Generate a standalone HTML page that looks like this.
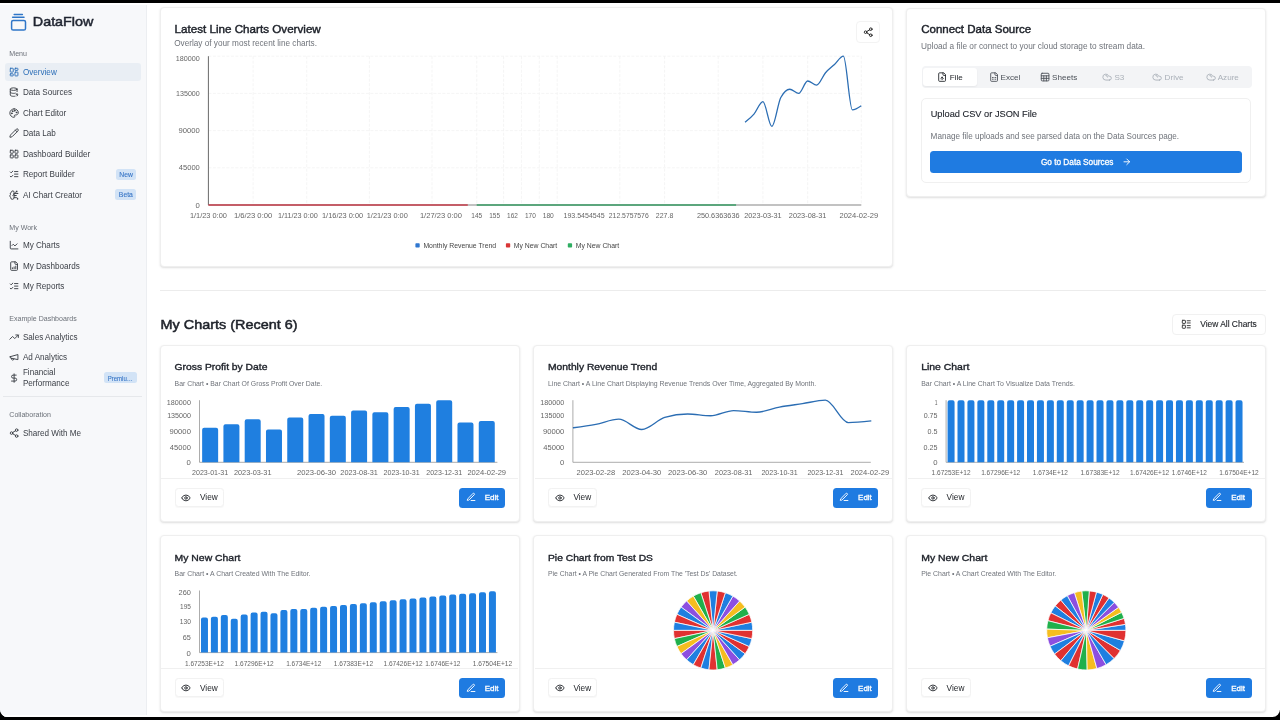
<!DOCTYPE html>
<html><head><meta charset="utf-8"><title>DataFlow</title>
<style>
html,body{margin:0;padding:0;background:#000;width:1280px;height:720px;overflow:hidden}
#page{position:absolute;left:0;top:0;width:1280px;height:716.9px;background:#fff;border-radius:0 0 7.5px 7.5px;overflow:hidden;font-family:"Liberation Sans", Arial, sans-serif}
.t{position:absolute;white-space:nowrap;line-height:1}
.b{position:absolute}
.i{position:absolute;overflow:visible}
#ov{position:absolute;left:0;top:0}
#top{position:absolute;left:0;top:0;width:1280px;height:2.7px;background:#000}
</style></head><body>
<div id="page">
<div class="b" style="left:0.00px;top:0.00px;width:146.70px;height:717.00px;background:#f7f8fa;border-right:1px solid #eceef1;box-sizing:border-box"></div>
<div class="b" style="left:0.00px;top:3.00px;width:146.70px;height:1.50px;background:#ffffff"></div>
<div class="b" style="left:0.00px;top:715.40px;width:146.70px;height:1.60px;background:#ffffff"></div>
<svg class="i" style="left:10px;top:13px" width="17" height="18" viewBox="0 0 17 18" fill="none" stroke="#2f76c8" stroke-width="1.5" stroke-linecap="round"><line x1="4.2" y1="1.4" x2="12.4" y2="1.4"/><line x1="2.6" y1="4.3" x2="14" y2="4.3"/><rect x="1.6" y="7.4" width="13.9" height="9.6" rx="1.6"/></svg>
<div class="b" style="left:5.30px;top:63.20px;width:135.90px;height:17.60px;background:#e9eef4;border-radius:3px"></div>
<svg class="i" style="left:8.70px;top:66.90px" width="10.2" height="10.2" viewBox="0 0 24 24" fill="none" stroke="#2d6fb8" stroke-width="2.2" stroke-linecap="round" stroke-linejoin="round"><rect width="7" height="9" x="3" y="3" rx="1"/><rect width="7" height="5" x="14" y="3" rx="1"/><rect width="7" height="9" x="14" y="12" rx="1"/><rect width="7" height="5" x="3" y="16" rx="1"/></svg>
<svg class="i" style="left:8.70px;top:87.40px" width="10.2" height="10.2" viewBox="0 0 24 24" fill="none" stroke="#3b3f46" stroke-width="2.2" stroke-linecap="round" stroke-linejoin="round"><ellipse cx="11" cy="5" rx="8" ry="3"/><path d="M3 5v14c0 1.66 3.6 3 8 3 1.2 0 2.3-.1 3.3-.3"/><path d="M3 12c0 1.66 3.6 3 8 3 1.5 0 2.9-.15 4-.45"/><path d="M19 5v6"/><path d="m19 15-2 3h4l-2 3"/></svg>
<svg class="i" style="left:8.70px;top:107.90px" width="10.2" height="10.2" viewBox="0 0 24 24" fill="none" stroke="#3b3f46" stroke-width="2.2" stroke-linecap="round" stroke-linejoin="round"><circle cx="13.5" cy="6.5" r="1" fill="currentColor"/><circle cx="17.5" cy="10.5" r="1" fill="currentColor"/><circle cx="8.5" cy="7.5" r="1" fill="currentColor"/><circle cx="6.5" cy="12.5" r="1" fill="currentColor"/><path d="M12 2C6.5 2 2 6.5 2 12s4.5 10 10 10c.926 0 1.648-.746 1.648-1.688 0-.437-.18-.835-.437-1.125-.29-.289-.438-.652-.438-1.125a1.64 1.64 0 0 1 1.668-1.668h1.996c3.051 0 5.555-2.503 5.555-5.554C21.965 6.012 17.461 2 12 2z"/></svg>
<svg class="i" style="left:8.70px;top:128.40px" width="10.2" height="10.2" viewBox="0 0 24 24" fill="none" stroke="#3b3f46" stroke-width="2.2" stroke-linecap="round" stroke-linejoin="round"><path d="M21.174 6.812a1 1 0 0 0-3.986-3.987L3.842 16.174a2 2 0 0 0-.5.83l-1.321 4.352a.5.5 0 0 0 .623.622l4.353-1.32a2 2 0 0 0 .83-.497z"/><path d="m15 5 4 4"/></svg>
<svg class="i" style="left:8.70px;top:148.90px" width="10.2" height="10.2" viewBox="0 0 24 24" fill="none" stroke="#3b3f46" stroke-width="2.2" stroke-linecap="round" stroke-linejoin="round"><rect width="7" height="7" x="3" y="3" rx="1"/><rect width="7" height="7" x="14" y="3" rx="1"/><rect width="7" height="7" x="14" y="14" rx="1"/><rect width="7" height="7" x="3" y="14" rx="1"/></svg>
<svg class="i" style="left:8.70px;top:169.30px" width="10.2" height="10.2" viewBox="0 0 24 24" fill="none" stroke="#3b3f46" stroke-width="2.2" stroke-linecap="round" stroke-linejoin="round"><path d="m3 17 2 2 4-4"/><path d="m3 7 2 2 4-4"/><path d="M13 6h8"/><path d="M13 12h8"/><path d="M13 18h8"/></svg>
<div class="b" style="left:115.80px;top:169.00px;width:20.70px;height:11.00px;background:#d2e3f6;border-radius:2.5px"></div>
<svg class="i" style="left:8.70px;top:189.70px" width="10.2" height="10.2" viewBox="0 0 24 24" fill="none" stroke="#3b3f46" stroke-width="2.2" stroke-linecap="round" stroke-linejoin="round"><path d="M12 5a3 3 0 1 0-5.997.125 4 4 0 0 0-2.526 5.77 4 4 0 0 0 .556 6.588A4 4 0 1 0 12 18Z"/><path d="M9 13a4.5 4.5 0 0 0 3-4"/><path d="M12 13h4"/><path d="M12 18h6a2 2 0 0 1 2 2v1"/><path d="M12 8h8"/><path d="M16 8V5a2 2 0 0 1 2-2"/><circle cx="16" cy="13" r=".5"/><circle cx="18" cy="3" r=".5"/><circle cx="20" cy="21" r=".5"/><circle cx="20" cy="8" r=".5"/></svg>
<div class="b" style="left:115.20px;top:189.40px;width:21.30px;height:11.00px;background:#d2e3f6;border-radius:2.5px"></div>
<svg class="i" style="left:8.70px;top:240.40px" width="10.2" height="10.2" viewBox="0 0 24 24" fill="none" stroke="#3b3f46" stroke-width="2.2" stroke-linecap="round" stroke-linejoin="round"><path d="M3 3v16a2 2 0 0 0 2 2h16"/><path d="m19 9-5 5-4-4-3 3"/></svg>
<svg class="i" style="left:8.70px;top:260.90px" width="10.2" height="10.2" viewBox="0 0 24 24" fill="none" stroke="#3b3f46" stroke-width="2.2" stroke-linecap="round" stroke-linejoin="round"><path d="M15 2H6a2 2 0 0 0-2 2v16a2 2 0 0 0 2 2h12a2 2 0 0 0 2-2V7Z"/><path d="M14 2v4a2 2 0 0 0 2 2h4"/><path d="M8 18v-2"/><path d="M12 18v-4"/><path d="M16 18v-6"/></svg>
<svg class="i" style="left:8.70px;top:281.40px" width="10.2" height="10.2" viewBox="0 0 24 24" fill="none" stroke="#3b3f46" stroke-width="2.2" stroke-linecap="round" stroke-linejoin="round"><path d="m3 17 2 2 4-4"/><path d="m3 7 2 2 4-4"/><path d="M13 6h8"/><path d="M13 12h8"/><path d="M13 18h8"/></svg>
<svg class="i" style="left:8.70px;top:331.60px" width="10.2" height="10.2" viewBox="0 0 24 24" fill="none" stroke="#3b3f46" stroke-width="2.2" stroke-linecap="round" stroke-linejoin="round"><polyline points="22 7 13.5 15.5 8.5 10.5 2 17"/><polyline points="16 7 22 7 22 13"/></svg>
<svg class="i" style="left:8.70px;top:352.00px" width="10.2" height="10.2" viewBox="0 0 24 24" fill="none" stroke="#3b3f46" stroke-width="2.2" stroke-linecap="round" stroke-linejoin="round"><path d="m3 11 18-5v12L3 14v-3z"/><path d="M11.6 16.8a3 3 0 1 1-5.8-1.6"/></svg>
<svg class="i" style="left:8.70px;top:372.90px" width="10.2" height="10.2" viewBox="0 0 24 24" fill="none" stroke="#3b3f46" stroke-width="2.2" stroke-linecap="round" stroke-linejoin="round"><line x1="12" x2="12" y1="2" y2="22"/><path d="M17 5H9.5a3.5 3.5 0 0 0 0 7h5a3.5 3.5 0 0 1 0 7H6"/></svg>
<div class="b" style="left:104.00px;top:372.10px;width:32.50px;height:11.40px;background:#d2e3f6;border-radius:2.5px"></div>
<div class="b" style="left:3.00px;top:396.00px;width:138.70px;height:1.00px;background:#e6e8eb"></div>
<svg class="i" style="left:8.70px;top:427.80px" width="10.2" height="10.2" viewBox="0 0 24 24" fill="none" stroke="#3b3f46" stroke-width="2.2" stroke-linecap="round" stroke-linejoin="round"><circle cx="18" cy="5" r="3"/><circle cx="6" cy="12" r="3"/><circle cx="18" cy="19" r="3"/><line x1="8.59" x2="15.42" y1="13.51" y2="17.49"/><line x1="15.41" x2="8.59" y1="6.51" y2="10.49"/></svg>
<div class="b" style="left:160.00px;top:7.00px;width:733.00px;height:260.00px;background:#fff;border:1px solid #efefef;border-radius:4px;box-shadow:0 1px 3px rgba(0,0,0,0.08),0 1px 1.5px rgba(0,0,0,0.06);box-sizing:border-box"></div>
<div class="b" style="left:856.10px;top:21.40px;width:23.60px;height:21.90px;border:1px solid #f3f3f3;border-radius:4px;box-sizing:border-box;background:#fff"></div>
<svg class="i" style="left:862.70px;top:27.20px" width="10.4" height="10.4" viewBox="0 0 24 24" fill="none" stroke="#222" stroke-width="2.2" stroke-linecap="round" stroke-linejoin="round"><circle cx="18" cy="5" r="3"/><circle cx="6" cy="12" r="3"/><circle cx="18" cy="19" r="3"/><line x1="8.59" x2="15.42" y1="13.51" y2="17.49"/><line x1="15.41" x2="8.59" y1="6.51" y2="10.49"/></svg>
<div class="b" style="left:906.00px;top:8.00px;width:360.00px;height:189.00px;background:#fff;border:1px solid #efefef;border-radius:4px;box-shadow:0 1px 3px rgba(0,0,0,0.08),0 1px 1.5px rgba(0,0,0,0.06);box-sizing:border-box"></div>
<div class="b" style="left:921.60px;top:66.20px;width:330.30px;height:21.60px;background:#f3f4f6;border-radius:4px"></div>
<div class="b" style="left:923.00px;top:68.20px;width:54.40px;height:17.80px;background:#fff;border-radius:3px;box-shadow:0 1px 2px rgba(0,0,0,0.06)"></div>
<svg class="i" style="left:937.30px;top:72.10px" width="10.2" height="10.2" viewBox="0 0 24 24" fill="none" stroke="#23262b" stroke-width="2.1" stroke-linecap="round" stroke-linejoin="round"><path d="M15 2H6a2 2 0 0 0-2 2v16a2 2 0 0 0 2 2h12a2 2 0 0 0 2-2V7Z"/><path d="M14 2v4a2 2 0 0 0 2 2h4"/><path d="M12 12v6"/><path d="m15 15-3-3-3 3"/></svg>
<svg class="i" style="left:988.50px;top:72.10px" width="10.2" height="10.2" viewBox="0 0 24 24" fill="none" stroke="#4b5058" stroke-width="2.1" stroke-linecap="round" stroke-linejoin="round"><path d="M15 2H6a2 2 0 0 0-2 2v16a2 2 0 0 0 2 2h12a2 2 0 0 0 2-2V7Z"/><path d="M14 2v4a2 2 0 0 0 2 2h4"/><path d="M8 13h2"/><path d="M14 13h2"/><path d="M8 17h2"/><path d="M14 17h2"/></svg>
<svg class="i" style="left:1039.90px;top:72.10px" width="10.2" height="10.2" viewBox="0 0 24 24" fill="none" stroke="#4b5058" stroke-width="2.1" stroke-linecap="round" stroke-linejoin="round"><rect width="18" height="18" x="3" y="3" rx="2"/><line x1="3" x2="21" y1="9" y2="9"/><line x1="3" x2="21" y1="15" y2="15"/><line x1="9" x2="9" y1="9" y2="21"/><line x1="15" x2="15" y1="9" y2="21"/></svg>
<svg class="i" style="left:1102.20px;top:72.10px" width="10.2" height="10.2" viewBox="0 0 24 24" fill="none" stroke="#aab0b8" stroke-width="2.1" stroke-linecap="round" stroke-linejoin="round"><path d="M17.5 19H9a7 7 0 1 1 6.71-9h1.79a4.5 4.5 0 1 1 0 9Z"/><path d="M13 12a4 4 0 0 0-4-4"/></svg>
<svg class="i" style="left:1152.20px;top:72.10px" width="10.2" height="10.2" viewBox="0 0 24 24" fill="none" stroke="#aab0b8" stroke-width="2.1" stroke-linecap="round" stroke-linejoin="round"><path d="M17.5 19H9a7 7 0 1 1 6.71-9h1.79a4.5 4.5 0 1 1 0 9Z"/><path d="M13 12a4 4 0 0 0-4-4"/></svg>
<svg class="i" style="left:1205.70px;top:72.10px" width="10.2" height="10.2" viewBox="0 0 24 24" fill="none" stroke="#aab0b8" stroke-width="2.1" stroke-linecap="round" stroke-linejoin="round"><path d="M17.5 19H9a7 7 0 1 1 6.71-9h1.79a4.5 4.5 0 1 1 0 9Z"/><path d="M13 12a4 4 0 0 0-4-4"/></svg>
<div class="b" style="left:920.80px;top:97.60px;width:330.50px;height:85.20px;border:1px solid #f0f0f0;border-radius:5px;box-sizing:border-box"></div>
<div class="b" style="left:930.30px;top:150.90px;width:312.10px;height:22.00px;background:#1f7be1;border-radius:3.5px"></div>
<svg class="i" style="left:1122.20px;top:157.30px" width="9.6" height="9.6" viewBox="0 0 24 24" fill="none" stroke="#fff" stroke-width="2.3" stroke-linecap="round" stroke-linejoin="round"><path d="M5 12h14"/><path d="m12 5 7 7-7 7"/></svg>
<div class="b" style="left:160.00px;top:289.50px;width:1106.00px;height:1.00px;background:#ececec"></div>
<div class="b" style="left:1171.80px;top:313.70px;width:94.00px;height:21.40px;border:1px solid #f1f1f1;border-radius:4px;box-sizing:border-box;background:#fff"></div>
<svg class="i" style="left:1180.70px;top:319.10px" width="10.6" height="10.6" viewBox="0 0 24 24" fill="none" stroke="#333" stroke-width="2.1" stroke-linecap="round" stroke-linejoin="round"><rect width="7" height="7" x="3" y="3" rx="1"/><rect width="7" height="7" x="3" y="14" rx="1"/><path d="M14 4h7"/><path d="M14 9h7"/><path d="M14 15h7"/><path d="M14 20h7"/></svg>
<div class="b" style="left:160.00px;top:345.00px;width:360.00px;height:177.00px;background:#fff;border:1px solid #efefef;border-radius:4px;box-shadow:0 1px 3px rgba(0,0,0,0.08),0 1px 1.5px rgba(0,0,0,0.06);box-sizing:border-box"></div>
<div class="b" style="left:161.10px;top:477.50px;width:357.40px;height:0.90px;background:#f0f0f0"></div>
<div class="b" style="left:174.80px;top:487.60px;width:49.20px;height:19.50px;border:1px solid #f2f2f2;border-radius:3.5px;box-sizing:border-box;background:#fff;box-shadow:0 0.5px 1px rgba(0,0,0,0.03)"></div>
<svg class="i" style="left:181.15px;top:492.55px" width="9.9" height="9.9" viewBox="0 0 24 24" fill="none" stroke="#2a2d33" stroke-width="2.3" stroke-linecap="round" stroke-linejoin="round"><path d="M2.062 12.348a1 1 0 0 1 0-.696 10.75 10.75 0 0 1 19.876 0 1 1 0 0 1 0 .696 10.75 10.75 0 0 1-19.876 0"/><circle cx="12" cy="12" r="3"/></svg>
<div class="b" style="left:459.20px;top:487.50px;width:45.90px;height:20.00px;background:#1f7be1;border-radius:3.5px"></div>
<svg class="i" style="left:465.60px;top:492.40px" width="10.2" height="10.2" viewBox="0 0 24 24" fill="none" stroke="#fff" stroke-width="2.2" stroke-linecap="round" stroke-linejoin="round"><path d="M12 20h9"/><path d="M16.376 3.622a1 1 0 0 1 3.002 3.002L7.368 18.635a2 2 0 0 1-.855.506l-2.872.838a.5.5 0 0 1-.62-.62l.838-2.872a2 2 0 0 1 .506-.854z"/></svg>
<div class="b" style="left:533.00px;top:345.00px;width:360.00px;height:177.00px;background:#fff;border:1px solid #efefef;border-radius:4px;box-shadow:0 1px 3px rgba(0,0,0,0.08),0 1px 1.5px rgba(0,0,0,0.06);box-sizing:border-box"></div>
<div class="b" style="left:534.50px;top:477.50px;width:357.40px;height:0.90px;background:#f0f0f0"></div>
<div class="b" style="left:548.20px;top:487.60px;width:49.20px;height:19.50px;border:1px solid #f2f2f2;border-radius:3.5px;box-sizing:border-box;background:#fff;box-shadow:0 0.5px 1px rgba(0,0,0,0.03)"></div>
<svg class="i" style="left:554.55px;top:492.55px" width="9.9" height="9.9" viewBox="0 0 24 24" fill="none" stroke="#2a2d33" stroke-width="2.3" stroke-linecap="round" stroke-linejoin="round"><path d="M2.062 12.348a1 1 0 0 1 0-.696 10.75 10.75 0 0 1 19.876 0 1 1 0 0 1 0 .696 10.75 10.75 0 0 1-19.876 0"/><circle cx="12" cy="12" r="3"/></svg>
<div class="b" style="left:832.60px;top:487.50px;width:45.90px;height:20.00px;background:#1f7be1;border-radius:3.5px"></div>
<svg class="i" style="left:839.00px;top:492.40px" width="10.2" height="10.2" viewBox="0 0 24 24" fill="none" stroke="#fff" stroke-width="2.2" stroke-linecap="round" stroke-linejoin="round"><path d="M12 20h9"/><path d="M16.376 3.622a1 1 0 0 1 3.002 3.002L7.368 18.635a2 2 0 0 1-.855.506l-2.872.838a.5.5 0 0 1-.62-.62l.838-2.872a2 2 0 0 1 .506-.854z"/></svg>
<div class="b" style="left:906.00px;top:345.00px;width:360.00px;height:177.00px;background:#fff;border:1px solid #efefef;border-radius:4px;box-shadow:0 1px 3px rgba(0,0,0,0.08),0 1px 1.5px rgba(0,0,0,0.06);box-sizing:border-box"></div>
<div class="b" style="left:907.70px;top:477.50px;width:357.40px;height:0.90px;background:#f0f0f0"></div>
<div class="b" style="left:921.40px;top:487.60px;width:49.20px;height:19.50px;border:1px solid #f2f2f2;border-radius:3.5px;box-sizing:border-box;background:#fff;box-shadow:0 0.5px 1px rgba(0,0,0,0.03)"></div>
<svg class="i" style="left:927.75px;top:492.55px" width="9.9" height="9.9" viewBox="0 0 24 24" fill="none" stroke="#2a2d33" stroke-width="2.3" stroke-linecap="round" stroke-linejoin="round"><path d="M2.062 12.348a1 1 0 0 1 0-.696 10.75 10.75 0 0 1 19.876 0 1 1 0 0 1 0 .696 10.75 10.75 0 0 1-19.876 0"/><circle cx="12" cy="12" r="3"/></svg>
<div class="b" style="left:1205.80px;top:487.50px;width:45.90px;height:20.00px;background:#1f7be1;border-radius:3.5px"></div>
<svg class="i" style="left:1212.20px;top:492.40px" width="10.2" height="10.2" viewBox="0 0 24 24" fill="none" stroke="#fff" stroke-width="2.2" stroke-linecap="round" stroke-linejoin="round"><path d="M12 20h9"/><path d="M16.376 3.622a1 1 0 0 1 3.002 3.002L7.368 18.635a2 2 0 0 1-.855.506l-2.872.838a.5.5 0 0 1-.62-.62l.838-2.872a2 2 0 0 1 .506-.854z"/></svg>
<div class="b" style="left:160.00px;top:535.00px;width:360.00px;height:177.00px;background:#fff;border:1px solid #efefef;border-radius:4px;box-shadow:0 1px 3px rgba(0,0,0,0.08),0 1px 1.5px rgba(0,0,0,0.06);box-sizing:border-box"></div>
<div class="b" style="left:161.10px;top:667.80px;width:357.40px;height:0.90px;background:#f0f0f0"></div>
<div class="b" style="left:174.80px;top:677.90px;width:49.20px;height:19.50px;border:1px solid #f2f2f2;border-radius:3.5px;box-sizing:border-box;background:#fff;box-shadow:0 0.5px 1px rgba(0,0,0,0.03)"></div>
<svg class="i" style="left:181.15px;top:682.85px" width="9.9" height="9.9" viewBox="0 0 24 24" fill="none" stroke="#2a2d33" stroke-width="2.3" stroke-linecap="round" stroke-linejoin="round"><path d="M2.062 12.348a1 1 0 0 1 0-.696 10.75 10.75 0 0 1 19.876 0 1 1 0 0 1 0 .696 10.75 10.75 0 0 1-19.876 0"/><circle cx="12" cy="12" r="3"/></svg>
<div class="b" style="left:459.20px;top:677.80px;width:45.90px;height:20.00px;background:#1f7be1;border-radius:3.5px"></div>
<svg class="i" style="left:465.60px;top:682.70px" width="10.2" height="10.2" viewBox="0 0 24 24" fill="none" stroke="#fff" stroke-width="2.2" stroke-linecap="round" stroke-linejoin="round"><path d="M12 20h9"/><path d="M16.376 3.622a1 1 0 0 1 3.002 3.002L7.368 18.635a2 2 0 0 1-.855.506l-2.872.838a.5.5 0 0 1-.62-.62l.838-2.872a2 2 0 0 1 .506-.854z"/></svg>
<div class="b" style="left:533.00px;top:535.00px;width:360.00px;height:177.00px;background:#fff;border:1px solid #efefef;border-radius:4px;box-shadow:0 1px 3px rgba(0,0,0,0.08),0 1px 1.5px rgba(0,0,0,0.06);box-sizing:border-box"></div>
<div class="b" style="left:534.50px;top:667.80px;width:357.40px;height:0.90px;background:#f0f0f0"></div>
<div class="b" style="left:548.20px;top:677.90px;width:49.20px;height:19.50px;border:1px solid #f2f2f2;border-radius:3.5px;box-sizing:border-box;background:#fff;box-shadow:0 0.5px 1px rgba(0,0,0,0.03)"></div>
<svg class="i" style="left:554.55px;top:682.85px" width="9.9" height="9.9" viewBox="0 0 24 24" fill="none" stroke="#2a2d33" stroke-width="2.3" stroke-linecap="round" stroke-linejoin="round"><path d="M2.062 12.348a1 1 0 0 1 0-.696 10.75 10.75 0 0 1 19.876 0 1 1 0 0 1 0 .696 10.75 10.75 0 0 1-19.876 0"/><circle cx="12" cy="12" r="3"/></svg>
<div class="b" style="left:832.60px;top:677.80px;width:45.90px;height:20.00px;background:#1f7be1;border-radius:3.5px"></div>
<svg class="i" style="left:839.00px;top:682.70px" width="10.2" height="10.2" viewBox="0 0 24 24" fill="none" stroke="#fff" stroke-width="2.2" stroke-linecap="round" stroke-linejoin="round"><path d="M12 20h9"/><path d="M16.376 3.622a1 1 0 0 1 3.002 3.002L7.368 18.635a2 2 0 0 1-.855.506l-2.872.838a.5.5 0 0 1-.62-.62l.838-2.872a2 2 0 0 1 .506-.854z"/></svg>
<div class="b" style="left:906.00px;top:535.00px;width:360.00px;height:177.00px;background:#fff;border:1px solid #efefef;border-radius:4px;box-shadow:0 1px 3px rgba(0,0,0,0.08),0 1px 1.5px rgba(0,0,0,0.06);box-sizing:border-box"></div>
<div class="b" style="left:907.70px;top:667.80px;width:357.40px;height:0.90px;background:#f0f0f0"></div>
<div class="b" style="left:921.40px;top:677.90px;width:49.20px;height:19.50px;border:1px solid #f2f2f2;border-radius:3.5px;box-sizing:border-box;background:#fff;box-shadow:0 0.5px 1px rgba(0,0,0,0.03)"></div>
<svg class="i" style="left:927.75px;top:682.85px" width="9.9" height="9.9" viewBox="0 0 24 24" fill="none" stroke="#2a2d33" stroke-width="2.3" stroke-linecap="round" stroke-linejoin="round"><path d="M2.062 12.348a1 1 0 0 1 0-.696 10.75 10.75 0 0 1 19.876 0 1 1 0 0 1 0 .696 10.75 10.75 0 0 1-19.876 0"/><circle cx="12" cy="12" r="3"/></svg>
<div class="b" style="left:1205.80px;top:677.80px;width:45.90px;height:20.00px;background:#1f7be1;border-radius:3.5px"></div>
<svg class="i" style="left:1212.20px;top:682.70px" width="10.2" height="10.2" viewBox="0 0 24 24" fill="none" stroke="#fff" stroke-width="2.2" stroke-linecap="round" stroke-linejoin="round"><path d="M12 20h9"/><path d="M16.376 3.622a1 1 0 0 1 3.002 3.002L7.368 18.635a2 2 0 0 1-.855.506l-2.872.838a.5.5 0 0 1-.62-.62l.838-2.872a2 2 0 0 1 .506-.854z"/></svg>
<svg id="ov" width="1280" height="716" viewBox="0 0 1280 716" font-family='"Liberation Sans", Arial, sans-serif'>
<line x1="208.40" x2="861.30" y1="56.2" y2="56.2" stroke="#f3f3f3" stroke-width="0.8" stroke-dasharray="3 1.5"/>
<line x1="208.40" x2="861.30" y1="93.4" y2="93.4" stroke="#f3f3f3" stroke-width="0.8" stroke-dasharray="3 1.5"/>
<line x1="208.40" x2="861.30" y1="130.6" y2="130.6" stroke="#f3f3f3" stroke-width="0.8" stroke-dasharray="3 1.5"/>
<line x1="208.40" x2="861.30" y1="167.8" y2="167.8" stroke="#f3f3f3" stroke-width="0.8" stroke-dasharray="3 1.5"/>
<line x1="253.12" x2="253.12" y1="56.2" y2="205.0" stroke="#f3f3f3" stroke-width="0.8" stroke-dasharray="3 1.5"/>
<line x1="306.78" x2="306.78" y1="56.2" y2="205.0" stroke="#f3f3f3" stroke-width="0.8" stroke-dasharray="3 1.5"/>
<line x1="369.39" x2="369.39" y1="56.2" y2="205.0" stroke="#f3f3f3" stroke-width="0.8" stroke-dasharray="3 1.5"/>
<line x1="432.00" x2="432.00" y1="56.2" y2="205.0" stroke="#f3f3f3" stroke-width="0.8" stroke-dasharray="3 1.5"/>
<line x1="476.72" x2="476.72" y1="56.2" y2="205.0" stroke="#f3f3f3" stroke-width="0.8" stroke-dasharray="3 1.5"/>
<line x1="503.55" x2="503.55" y1="56.2" y2="205.0" stroke="#f3f3f3" stroke-width="0.8" stroke-dasharray="3 1.5"/>
<line x1="521.43" x2="521.43" y1="56.2" y2="205.0" stroke="#f3f3f3" stroke-width="0.8" stroke-dasharray="3 1.5"/>
<line x1="539.32" x2="539.32" y1="56.2" y2="205.0" stroke="#f3f3f3" stroke-width="0.8" stroke-dasharray="3 1.5"/>
<line x1="557.21" x2="557.21" y1="56.2" y2="205.0" stroke="#f3f3f3" stroke-width="0.8" stroke-dasharray="3 1.5"/>
<line x1="619.82" x2="619.82" y1="56.2" y2="205.0" stroke="#f3f3f3" stroke-width="0.8" stroke-dasharray="3 1.5"/>
<line x1="664.54" x2="664.54" y1="56.2" y2="205.0" stroke="#f3f3f3" stroke-width="0.8" stroke-dasharray="3 1.5"/>
<line x1="718.20" x2="718.20" y1="56.2" y2="205.0" stroke="#f3f3f3" stroke-width="0.8" stroke-dasharray="3 1.5"/>
<line x1="762.92" x2="762.92" y1="56.2" y2="205.0" stroke="#f3f3f3" stroke-width="0.8" stroke-dasharray="3 1.5"/>
<line x1="807.64" x2="807.64" y1="56.2" y2="205.0" stroke="#f3f3f3" stroke-width="0.8" stroke-dasharray="3 1.5"/>
<line x1="861.30" x2="861.30" y1="56.2" y2="205.0" stroke="#f3f3f3" stroke-width="0.8" stroke-dasharray="3 1.5"/>
<text x="208.40" y="217.90" font-size="7.3" text-anchor="middle" fill="#666" textLength="37.05" lengthAdjust="spacingAndGlyphs">1/1/23 0:00</text>
<text x="253.12" y="217.90" font-size="7.3" text-anchor="middle" fill="#666" textLength="38.40" lengthAdjust="spacingAndGlyphs">1/6/23 0:00</text>
<text x="297.84" y="217.90" font-size="7.3" text-anchor="middle" fill="#666" textLength="39.80" lengthAdjust="spacingAndGlyphs">1/11/23 0:00</text>
<text x="342.56" y="217.90" font-size="7.3" text-anchor="middle" fill="#666" textLength="41.15" lengthAdjust="spacingAndGlyphs">1/16/23 0:00</text>
<text x="387.28" y="217.90" font-size="7.3" text-anchor="middle" fill="#666" textLength="41.00" lengthAdjust="spacingAndGlyphs">1/21/23 0:00</text>
<text x="440.94" y="217.90" font-size="7.3" text-anchor="middle" fill="#666" textLength="42.05" lengthAdjust="spacingAndGlyphs">1/27/23 0:00</text>
<text x="476.72" y="217.90" font-size="7.3" text-anchor="middle" fill="#666" textLength="10.90" lengthAdjust="spacingAndGlyphs">145</text>
<text x="494.60" y="217.90" font-size="7.3" text-anchor="middle" fill="#666" textLength="10.75" lengthAdjust="spacingAndGlyphs">155</text>
<text x="512.49" y="217.90" font-size="7.3" text-anchor="middle" fill="#666" textLength="10.80" lengthAdjust="spacingAndGlyphs">162</text>
<text x="530.38" y="217.90" font-size="7.3" text-anchor="middle" fill="#666" textLength="10.85" lengthAdjust="spacingAndGlyphs">170</text>
<text x="548.27" y="217.90" font-size="7.3" text-anchor="middle" fill="#666" textLength="11.15" lengthAdjust="spacingAndGlyphs">180</text>
<text x="584.04" y="217.90" font-size="7.3" text-anchor="middle" fill="#666" textLength="41.10" lengthAdjust="spacingAndGlyphs">193.5454545</text>
<text x="628.76" y="217.90" font-size="7.3" text-anchor="middle" fill="#666" textLength="39.85" lengthAdjust="spacingAndGlyphs">212.5757576</text>
<text x="664.54" y="217.90" font-size="7.3" text-anchor="middle" fill="#666" textLength="17.50" lengthAdjust="spacingAndGlyphs">227.8</text>
<text x="718.20" y="217.90" font-size="7.3" text-anchor="middle" fill="#666" textLength="42.65" lengthAdjust="spacingAndGlyphs">250.6363636</text>
<text x="762.92" y="217.90" font-size="7.3" text-anchor="middle" fill="#666" textLength="37.55" lengthAdjust="spacingAndGlyphs">2023-03-31</text>
<text x="807.64" y="217.90" font-size="7.3" text-anchor="middle" fill="#666" textLength="37.55" lengthAdjust="spacingAndGlyphs">2023-08-31</text>
<text x="858.80" y="217.90" font-size="7.3" text-anchor="middle" fill="#666" textLength="38.65" lengthAdjust="spacingAndGlyphs">2024-02-29</text>
<text x="199.80" y="60.80" font-size="7.3" text-anchor="end" fill="#666" textLength="24.05" lengthAdjust="spacingAndGlyphs">180000</text>
<text x="199.80" y="95.90" font-size="7.3" text-anchor="end" fill="#666" textLength="23.75" lengthAdjust="spacingAndGlyphs">135000</text>
<text x="199.80" y="133.00" font-size="7.3" text-anchor="end" fill="#666" textLength="21.30" lengthAdjust="spacingAndGlyphs">90000</text>
<text x="199.80" y="170.40" font-size="7.3" text-anchor="end" fill="#666" textLength="21.05" lengthAdjust="spacingAndGlyphs">45000</text>
<text x="199.80" y="207.70" font-size="7.3" text-anchor="end" fill="#666" textLength="4.30" lengthAdjust="spacingAndGlyphs">0</text>
<line x1="208.4" x2="208.4" y1="56.2" y2="205.0" stroke="#6a6a6a" stroke-width="1"/>
<line x1="208.4" x2="861.3" y1="205.0" y2="205.0" stroke="#858585" stroke-width="1.2"/>
<line x1="208.40" x2="467.77" y1="205.0" y2="205.0" stroke="#c43d4a" stroke-width="1.4"/>
<line x1="476.72" x2="736.09" y1="205.0" y2="205.0" stroke="#3a9c66" stroke-width="1.4"/>
<path d="M745.03,122.33C748.01,119.92 750.99,117.51 753.97,114.07C756.96,110.62 759.94,101.67 762.92,101.67C765.90,101.67 768.88,126.47 771.86,126.47C774.84,126.47 777.82,103.04 780.81,97.53C783.79,92.02 786.77,89.27 789.75,89.27C792.73,89.27 795.71,93.40 798.69,93.40C801.67,93.40 804.66,81.00 807.64,81.00C810.62,81.00 813.60,85.13 816.58,85.13C819.56,85.13 822.54,76.18 825.52,72.73C828.51,69.29 831.49,67.22 834.47,64.47C837.45,61.71 840.43,56.20 843.41,56.20C846.39,56.20 849.37,109.93 852.36,109.93C855.34,109.93 858.32,107.87 861.30,105.80" fill="none" stroke="#2b6db3" stroke-width="1.3"/>
<rect x="415.4" y="243.3" width="4.3" height="4.3" rx="0.8" fill="#2f77d0"/>
<text x="423.40" y="247.90" font-size="6.85" text-anchor="start" fill="#444">Monthly Revenue Trend</text>
<rect x="505.9" y="243.3" width="4.3" height="4.3" rx="0.8" fill="#d93636"/>
<text x="513.80" y="247.90" font-size="6.85" text-anchor="start" fill="#444">My New Chart</text>
<rect x="567.8" y="243.3" width="4.3" height="4.3" rx="0.8" fill="#2fae62"/>
<text x="575.80" y="247.90" font-size="6.85" text-anchor="start" fill="#444">My New Chart</text>
<text x="190.90" y="404.80" font-size="7.3" text-anchor="end" fill="#666" textLength="24.05" lengthAdjust="spacingAndGlyphs">180000</text>
<text x="190.90" y="418.30" font-size="7.3" text-anchor="end" fill="#666" textLength="23.75" lengthAdjust="spacingAndGlyphs">135000</text>
<text x="190.90" y="433.80" font-size="7.3" text-anchor="end" fill="#666" textLength="21.30" lengthAdjust="spacingAndGlyphs">90000</text>
<text x="190.90" y="449.60" font-size="7.3" text-anchor="end" fill="#666" textLength="21.05" lengthAdjust="spacingAndGlyphs">45000</text>
<text x="190.90" y="465.30" font-size="7.3" text-anchor="end" fill="#666" textLength="4.30" lengthAdjust="spacingAndGlyphs">0</text>
<line x1="199.50" x2="199.50" y1="400.20" y2="462.30" stroke="#888" stroke-width="0.7"/>
<line x1="199.50" x2="497.40" y1="462.30" y2="462.30" stroke="#888" stroke-width="0.7"/>
<path d="M202.14,462.30V429.80Q202.14,427.80 204.14,427.80H216.14Q218.14,427.80 218.14,429.80V462.30ZM223.42,462.30V426.35Q223.42,424.35 225.42,424.35H237.42Q239.42,424.35 239.42,426.35V462.30ZM244.70,462.30V421.18Q244.70,419.18 246.70,419.18H258.70Q260.70,419.18 260.70,421.18V462.30ZM265.98,462.30V431.52Q265.98,429.52 267.98,429.52H279.98Q281.98,429.52 281.98,431.52V462.30ZM287.25,462.30V419.45Q287.25,417.45 289.25,417.45H301.25Q303.25,417.45 303.25,419.45V462.30ZM308.53,462.30V416.00Q308.53,414.00 310.53,414.00H322.53Q324.53,414.00 324.53,416.00V462.30ZM329.81,462.30V417.73Q329.81,415.73 331.81,415.73H343.81Q345.81,415.73 345.81,417.73V462.30ZM351.09,462.30V412.55Q351.09,410.55 353.09,410.55H365.09Q367.09,410.55 367.09,412.55V462.30ZM372.37,462.30V414.27Q372.37,412.27 374.37,412.27H386.37Q388.37,412.27 388.37,414.27V462.30ZM393.65,462.30V409.10Q393.65,407.10 395.65,407.10H407.65Q409.65,407.10 409.65,409.10V462.30ZM414.93,462.30V405.65Q414.93,403.65 416.93,403.65H428.93Q430.93,403.65 430.93,405.65V462.30ZM436.20,462.30V402.20Q436.20,400.20 438.20,400.20H450.20Q452.20,400.20 452.20,402.20V462.30ZM457.48,462.30V424.62Q457.48,422.62 459.48,422.62H471.48Q473.48,422.62 473.48,424.62V462.30ZM478.76,462.30V422.90Q478.76,420.90 480.76,420.90H492.76Q494.76,420.90 494.76,422.90V462.30Z" fill="#1f7fe0"/>
<text x="210.14" y="475.20" font-size="7.3" text-anchor="middle" fill="#666" textLength="36.20" lengthAdjust="spacingAndGlyphs">2023-01-31</text>
<text x="252.70" y="475.20" font-size="7.3" text-anchor="middle" fill="#666" textLength="37.55" lengthAdjust="spacingAndGlyphs">2023-03-31</text>
<text x="316.53" y="475.20" font-size="7.3" text-anchor="middle" fill="#666" textLength="39.10" lengthAdjust="spacingAndGlyphs">2023-06-30</text>
<text x="359.09" y="475.20" font-size="7.3" text-anchor="middle" fill="#666" textLength="37.55" lengthAdjust="spacingAndGlyphs">2023-08-31</text>
<text x="401.65" y="475.20" font-size="7.3" text-anchor="middle" fill="#666" textLength="36.20" lengthAdjust="spacingAndGlyphs">2023-10-31</text>
<text x="444.20" y="475.20" font-size="7.3" text-anchor="middle" fill="#666" textLength="35.85" lengthAdjust="spacingAndGlyphs">2023-12-31</text>
<text x="486.76" y="475.20" font-size="7.3" text-anchor="middle" fill="#666" textLength="38.65" lengthAdjust="spacingAndGlyphs">2024-02-29</text>
<text x="564.30" y="404.80" font-size="7.3" text-anchor="end" fill="#666" textLength="24.05" lengthAdjust="spacingAndGlyphs">180000</text>
<text x="564.30" y="418.30" font-size="7.3" text-anchor="end" fill="#666" textLength="23.75" lengthAdjust="spacingAndGlyphs">135000</text>
<text x="564.30" y="433.80" font-size="7.3" text-anchor="end" fill="#666" textLength="21.30" lengthAdjust="spacingAndGlyphs">90000</text>
<text x="564.30" y="449.60" font-size="7.3" text-anchor="end" fill="#666" textLength="21.05" lengthAdjust="spacingAndGlyphs">45000</text>
<text x="564.30" y="465.30" font-size="7.3" text-anchor="end" fill="#666" textLength="4.30" lengthAdjust="spacingAndGlyphs">0</text>
<line x1="572.90" x2="572.90" y1="400.20" y2="462.30" stroke="#888" stroke-width="0.7"/>
<line x1="572.90" x2="870.80" y1="462.30" y2="462.30" stroke="#888" stroke-width="0.7"/>
<path d="M572.90,427.80C580.55,426.79 588.20,425.79 595.85,424.35C603.51,422.91 611.16,419.18 618.81,419.18C626.46,419.18 634.11,429.52 641.76,429.52C649.41,429.52 657.06,419.75 664.72,417.45C672.37,415.15 680.02,414.00 687.67,414.00C695.32,414.00 702.97,415.73 710.62,415.73C718.27,415.73 725.93,410.55 733.58,410.55C741.23,410.55 748.88,412.27 756.53,412.27C764.18,412.27 771.83,408.54 779.48,407.10C787.14,405.66 794.79,404.80 802.44,403.65C810.09,402.50 817.74,400.20 825.39,400.20C833.04,400.20 840.69,422.62 848.35,422.62C856.00,422.62 863.65,421.76 871.30,420.90" fill="none" stroke="#2b6db3" stroke-width="1.3"/>
<text x="595.85" y="475.20" font-size="7.3" text-anchor="middle" fill="#666" textLength="38.60" lengthAdjust="spacingAndGlyphs">2023-02-28</text>
<text x="641.76" y="475.20" font-size="7.3" text-anchor="middle" fill="#666" textLength="39.15" lengthAdjust="spacingAndGlyphs">2023-04-30</text>
<text x="687.67" y="475.20" font-size="7.3" text-anchor="middle" fill="#666" textLength="39.10" lengthAdjust="spacingAndGlyphs">2023-06-30</text>
<text x="733.58" y="475.20" font-size="7.3" text-anchor="middle" fill="#666" textLength="37.55" lengthAdjust="spacingAndGlyphs">2023-08-31</text>
<text x="779.48" y="475.20" font-size="7.3" text-anchor="middle" fill="#666" textLength="36.20" lengthAdjust="spacingAndGlyphs">2023-10-31</text>
<text x="825.39" y="475.20" font-size="7.3" text-anchor="middle" fill="#666" textLength="35.85" lengthAdjust="spacingAndGlyphs">2023-12-31</text>
<text x="869.80" y="475.20" font-size="7.3" text-anchor="middle" fill="#666" textLength="38.65" lengthAdjust="spacingAndGlyphs">2024-02-29</text>
<text x="937.50" y="404.80" font-size="7.3" text-anchor="end" fill="#666" textLength="2.75" lengthAdjust="spacingAndGlyphs">1</text>
<text x="937.50" y="418.30" font-size="7.3" text-anchor="end" fill="#666" textLength="13.80" lengthAdjust="spacingAndGlyphs">0.75</text>
<text x="937.50" y="433.80" font-size="7.3" text-anchor="end" fill="#666" textLength="10.00" lengthAdjust="spacingAndGlyphs">0.5</text>
<text x="937.50" y="449.60" font-size="7.3" text-anchor="end" fill="#666" textLength="13.95" lengthAdjust="spacingAndGlyphs">0.25</text>
<text x="937.50" y="465.30" font-size="7.3" text-anchor="end" fill="#666" textLength="4.30" lengthAdjust="spacingAndGlyphs">0</text>
<line x1="946.10" x2="946.10" y1="400.20" y2="462.30" stroke="#888" stroke-width="0.7"/>
<line x1="946.10" x2="1244.00" y1="462.30" y2="462.30" stroke="#888" stroke-width="0.7"/>
<path d="M947.57,462.30V402.20Q947.57,400.20 949.57,400.20H952.57Q954.57,400.20 954.57,402.20V462.30ZM957.50,462.30V402.20Q957.50,400.20 959.50,400.20H962.50Q964.50,400.20 964.50,402.20V462.30ZM967.43,462.30V402.20Q967.43,400.20 969.43,400.20H972.43Q974.43,400.20 974.43,402.20V462.30ZM977.36,462.30V402.20Q977.36,400.20 979.36,400.20H982.36Q984.36,400.20 984.36,402.20V462.30ZM987.29,462.30V402.20Q987.29,400.20 989.29,400.20H992.29Q994.29,400.20 994.29,402.20V462.30ZM997.22,462.30V402.20Q997.22,400.20 999.22,400.20H1002.22Q1004.22,400.20 1004.22,402.20V462.30ZM1007.15,462.30V402.20Q1007.15,400.20 1009.15,400.20H1012.15Q1014.15,400.20 1014.15,402.20V462.30ZM1017.08,462.30V402.20Q1017.08,400.20 1019.08,400.20H1022.08Q1024.08,400.20 1024.08,402.20V462.30ZM1027.00,462.30V402.20Q1027.00,400.20 1029.00,400.20H1032.00Q1034.00,400.20 1034.00,402.20V462.30ZM1036.93,462.30V402.20Q1036.93,400.20 1038.93,400.20H1041.93Q1043.93,400.20 1043.93,402.20V462.30ZM1046.87,462.30V402.20Q1046.87,400.20 1048.87,400.20H1051.87Q1053.87,400.20 1053.87,402.20V462.30ZM1056.79,462.30V402.20Q1056.79,400.20 1058.79,400.20H1061.79Q1063.79,400.20 1063.79,402.20V462.30ZM1066.72,462.30V402.20Q1066.72,400.20 1068.72,400.20H1071.72Q1073.72,400.20 1073.72,402.20V462.30ZM1076.65,462.30V402.20Q1076.65,400.20 1078.65,400.20H1081.65Q1083.65,400.20 1083.65,402.20V462.30ZM1086.58,462.30V402.20Q1086.58,400.20 1088.58,400.20H1091.58Q1093.58,400.20 1093.58,402.20V462.30ZM1096.51,462.30V402.20Q1096.51,400.20 1098.51,400.20H1101.51Q1103.51,400.20 1103.51,402.20V462.30ZM1106.44,462.30V402.20Q1106.44,400.20 1108.44,400.20H1111.44Q1113.44,400.20 1113.44,402.20V462.30ZM1116.38,462.30V402.20Q1116.38,400.20 1118.38,400.20H1121.38Q1123.38,400.20 1123.38,402.20V462.30ZM1126.31,462.30V402.20Q1126.31,400.20 1128.31,400.20H1131.31Q1133.31,400.20 1133.31,402.20V462.30ZM1136.23,462.30V402.20Q1136.23,400.20 1138.23,400.20H1141.23Q1143.23,400.20 1143.23,402.20V462.30ZM1146.16,462.30V402.20Q1146.16,400.20 1148.16,400.20H1151.16Q1153.16,400.20 1153.16,402.20V462.30ZM1156.10,462.30V402.20Q1156.10,400.20 1158.10,400.20H1161.10Q1163.10,400.20 1163.10,402.20V462.30ZM1166.02,462.30V402.20Q1166.02,400.20 1168.02,400.20H1171.02Q1173.02,400.20 1173.02,402.20V462.30ZM1175.95,462.30V402.20Q1175.95,400.20 1177.95,400.20H1180.95Q1182.95,400.20 1182.95,402.20V462.30ZM1185.88,462.30V402.20Q1185.88,400.20 1187.88,400.20H1190.88Q1192.88,400.20 1192.88,402.20V462.30ZM1195.81,462.30V402.20Q1195.81,400.20 1197.81,400.20H1200.81Q1202.81,400.20 1202.81,402.20V462.30ZM1205.74,462.30V402.20Q1205.74,400.20 1207.74,400.20H1210.74Q1212.74,400.20 1212.74,402.20V462.30ZM1215.67,462.30V402.20Q1215.67,400.20 1217.67,400.20H1220.67Q1222.67,400.20 1222.67,402.20V462.30ZM1225.60,462.30V402.20Q1225.60,400.20 1227.60,400.20H1230.60Q1232.60,400.20 1232.60,402.20V462.30ZM1235.53,462.30V402.20Q1235.53,400.20 1237.53,400.20H1240.53Q1242.53,400.20 1242.53,402.20V462.30Z" fill="#1f7fe0"/>
<text x="951.07" y="475.20" font-size="7.3" text-anchor="middle" fill="#666" textLength="39.00" lengthAdjust="spacingAndGlyphs">1.67253E+12</text>
<text x="1000.72" y="475.20" font-size="7.3" text-anchor="middle" fill="#666" textLength="39.10" lengthAdjust="spacingAndGlyphs">1.67296E+12</text>
<text x="1050.37" y="475.20" font-size="7.3" text-anchor="middle" fill="#666" textLength="35.20" lengthAdjust="spacingAndGlyphs">1.6734E+12</text>
<text x="1100.02" y="475.20" font-size="7.3" text-anchor="middle" fill="#666" textLength="39.25" lengthAdjust="spacingAndGlyphs">1.67383E+12</text>
<text x="1149.66" y="475.20" font-size="7.3" text-anchor="middle" fill="#666" textLength="39.15" lengthAdjust="spacingAndGlyphs">1.67426E+12</text>
<text x="1189.38" y="475.20" font-size="7.3" text-anchor="middle" fill="#666" textLength="35.20" lengthAdjust="spacingAndGlyphs">1.6746E+12</text>
<text x="1239.04" y="475.20" font-size="7.3" text-anchor="middle" fill="#666" textLength="39.40" lengthAdjust="spacingAndGlyphs">1.67504E+12</text>
<text x="190.90" y="595.10" font-size="7.3" text-anchor="end" fill="#666" textLength="12.35" lengthAdjust="spacingAndGlyphs">260</text>
<text x="190.90" y="608.60" font-size="7.3" text-anchor="end" fill="#666" textLength="10.85" lengthAdjust="spacingAndGlyphs">195</text>
<text x="190.90" y="624.10" font-size="7.3" text-anchor="end" fill="#666" textLength="11.15" lengthAdjust="spacingAndGlyphs">130</text>
<text x="190.90" y="639.90" font-size="7.3" text-anchor="end" fill="#666" textLength="8.10" lengthAdjust="spacingAndGlyphs">65</text>
<text x="190.90" y="655.60" font-size="7.3" text-anchor="end" fill="#666" textLength="4.30" lengthAdjust="spacingAndGlyphs">0</text>
<line x1="199.50" x2="199.50" y1="590.50" y2="652.60" stroke="#888" stroke-width="0.7"/>
<line x1="199.50" x2="497.40" y1="652.60" y2="652.60" stroke="#888" stroke-width="0.7"/>
<path d="M200.97,652.60V619.49Q200.97,617.49 202.97,617.49H205.97Q207.97,617.49 207.97,619.49V652.60ZM210.90,652.60V618.77Q210.90,616.77 212.90,616.77H215.90Q217.90,616.77 217.90,618.77V652.60ZM220.83,652.60V617.10Q220.83,615.10 222.83,615.10H225.83Q227.83,615.10 227.83,617.10V652.60ZM230.75,652.60V620.68Q230.75,618.68 232.75,618.68H235.75Q237.75,618.68 237.75,620.68V652.60ZM240.69,652.60V616.62Q240.69,614.62 242.69,614.62H245.69Q247.69,614.62 247.69,616.62V652.60ZM250.62,652.60V614.47Q250.62,612.47 252.62,612.47H255.62Q257.62,612.47 257.62,614.47V652.60ZM260.54,652.60V613.76Q260.54,611.76 262.54,611.76H265.54Q267.54,611.76 267.54,613.76V652.60ZM270.47,652.60V615.19Q270.47,613.19 272.47,613.19H275.47Q277.47,613.19 277.47,615.19V652.60ZM280.40,652.60V612.09Q280.40,610.09 282.40,610.09H285.40Q287.40,610.09 287.40,612.09V652.60ZM290.33,652.60V610.89Q290.33,608.89 292.33,608.89H295.33Q297.33,608.89 297.33,610.89V652.60ZM300.26,652.60V610.89Q300.26,608.89 302.26,608.89H305.26Q307.26,608.89 307.26,610.89V652.60ZM310.19,652.60V609.70Q310.19,607.70 312.19,607.70H315.19Q317.19,607.70 317.19,609.70V652.60ZM320.12,652.60V608.74Q320.12,606.74 322.12,606.74H325.12Q327.12,606.74 327.12,608.74V652.60ZM330.06,652.60V608.02Q330.06,606.02 332.06,606.02H335.06Q337.06,606.02 337.06,608.02V652.60ZM339.98,652.60V607.07Q339.98,605.07 341.98,605.07H344.98Q346.98,605.07 346.98,607.07V652.60ZM349.91,652.60V606.11Q349.91,604.11 351.91,604.11H354.91Q356.91,604.11 356.91,606.11V652.60ZM359.84,652.60V605.16Q359.84,603.16 361.84,603.16H364.84Q366.84,603.16 366.84,605.16V652.60ZM369.77,652.60V604.20Q369.77,602.20 371.77,602.20H374.77Q376.77,602.20 376.77,604.20V652.60ZM379.70,652.60V603.25Q379.70,601.25 381.70,601.25H384.70Q386.70,601.25 386.70,603.25V652.60ZM389.63,652.60V602.29Q389.63,600.29 391.63,600.29H394.63Q396.63,600.29 396.63,602.29V652.60ZM399.56,652.60V601.34Q399.56,599.34 401.56,599.34H404.56Q406.56,599.34 406.56,601.34V652.60ZM409.49,652.60V600.38Q409.49,598.38 411.49,598.38H414.49Q416.49,598.38 416.49,600.38V652.60ZM419.42,652.60V599.43Q419.42,597.43 421.42,597.43H424.42Q426.42,597.43 426.42,599.43V652.60ZM429.35,652.60V598.47Q429.35,596.47 431.35,596.47H434.35Q436.35,596.47 436.35,598.47V652.60ZM439.28,652.60V597.52Q439.28,595.52 441.28,595.52H444.28Q446.28,595.52 446.28,597.52V652.60ZM449.21,652.60V596.56Q449.21,594.56 451.21,594.56H454.21Q456.21,594.56 456.21,596.56V652.60ZM459.14,652.60V595.84Q459.14,593.84 461.14,593.84H464.14Q466.14,593.84 466.14,595.84V652.60ZM469.07,652.60V595.13Q469.07,593.13 471.07,593.13H474.07Q476.07,593.13 476.07,595.13V652.60ZM479.00,652.60V594.17Q479.00,592.17 481.00,592.17H484.00Q486.00,592.17 486.00,594.17V652.60ZM488.93,652.60V593.22Q488.93,591.22 490.93,591.22H493.93Q495.93,591.22 495.93,593.22V652.60Z" fill="#1f7fe0"/>
<text x="204.47" y="665.50" font-size="7.3" text-anchor="middle" fill="#666" textLength="39.00" lengthAdjust="spacingAndGlyphs">1.67253E+12</text>
<text x="254.12" y="665.50" font-size="7.3" text-anchor="middle" fill="#666" textLength="39.10" lengthAdjust="spacingAndGlyphs">1.67296E+12</text>
<text x="303.76" y="665.50" font-size="7.3" text-anchor="middle" fill="#666" textLength="35.20" lengthAdjust="spacingAndGlyphs">1.6734E+12</text>
<text x="353.41" y="665.50" font-size="7.3" text-anchor="middle" fill="#666" textLength="39.25" lengthAdjust="spacingAndGlyphs">1.67383E+12</text>
<text x="403.06" y="665.50" font-size="7.3" text-anchor="middle" fill="#666" textLength="39.15" lengthAdjust="spacingAndGlyphs">1.67426E+12</text>
<text x="442.78" y="665.50" font-size="7.3" text-anchor="middle" fill="#666" textLength="35.20" lengthAdjust="spacingAndGlyphs">1.6746E+12</text>
<text x="492.44" y="665.50" font-size="7.3" text-anchor="middle" fill="#666" textLength="39.40" lengthAdjust="spacingAndGlyphs">1.67504E+12</text>
<path d="M713.10,630.40L752.70,630.40A39.6,39.6 0 0 0 751.83,622.17Z" fill="#1f7fe0" stroke="#fff" stroke-width="0.75"/><path d="M713.10,630.40L751.83,622.17A39.6,39.6 0 0 0 749.28,614.29Z" fill="#e03131" stroke="#fff" stroke-width="0.75"/><path d="M713.10,630.40L749.28,614.29A39.6,39.6 0 0 0 745.14,607.12Z" fill="#20b04b" stroke="#fff" stroke-width="0.75"/><path d="M713.10,630.40L745.14,607.12A39.6,39.6 0 0 0 739.60,600.97Z" fill="#f5bd1f" stroke="#fff" stroke-width="0.75"/><path d="M713.10,630.40L739.60,600.97A39.6,39.6 0 0 0 732.90,596.11Z" fill="#8c4fe0" stroke="#fff" stroke-width="0.75"/><path d="M713.10,630.40L732.90,596.11A39.6,39.6 0 0 0 725.34,592.74Z" fill="#1f7fe0" stroke="#fff" stroke-width="0.75"/><path d="M713.10,630.40L725.34,592.74A39.6,39.6 0 0 0 717.24,591.02Z" fill="#e03131" stroke="#fff" stroke-width="0.75"/><path d="M713.10,630.40L717.24,591.02A39.6,39.6 0 0 0 708.96,591.02Z" fill="#1f7fe0" stroke="#fff" stroke-width="0.75"/><path d="M713.10,630.40L708.96,591.02A39.6,39.6 0 0 0 700.86,592.74Z" fill="#e03131" stroke="#fff" stroke-width="0.75"/><path d="M713.10,630.40L700.86,592.74A39.6,39.6 0 0 0 693.30,596.11Z" fill="#20b04b" stroke="#fff" stroke-width="0.75"/><path d="M713.10,630.40L693.30,596.11A39.6,39.6 0 0 0 686.60,600.97Z" fill="#f5bd1f" stroke="#fff" stroke-width="0.75"/><path d="M713.10,630.40L686.60,600.97A39.6,39.6 0 0 0 681.06,607.12Z" fill="#8c4fe0" stroke="#fff" stroke-width="0.75"/><path d="M713.10,630.40L681.06,607.12A39.6,39.6 0 0 0 676.92,614.29Z" fill="#1f7fe0" stroke="#fff" stroke-width="0.75"/><path d="M713.10,630.40L676.92,614.29A39.6,39.6 0 0 0 674.37,622.17Z" fill="#e03131" stroke="#fff" stroke-width="0.75"/><path d="M713.10,630.40L674.37,622.17A39.6,39.6 0 0 0 673.50,630.40Z" fill="#1f7fe0" stroke="#fff" stroke-width="0.75"/><path d="M713.10,630.40L673.50,630.40A39.6,39.6 0 0 0 674.37,638.63Z" fill="#e03131" stroke="#fff" stroke-width="0.75"/><path d="M713.10,630.40L674.37,638.63A39.6,39.6 0 0 0 676.92,646.51Z" fill="#20b04b" stroke="#fff" stroke-width="0.75"/><path d="M713.10,630.40L676.92,646.51A39.6,39.6 0 0 0 681.06,653.68Z" fill="#f5bd1f" stroke="#fff" stroke-width="0.75"/><path d="M713.10,630.40L681.06,653.68A39.6,39.6 0 0 0 686.60,659.83Z" fill="#8c4fe0" stroke="#fff" stroke-width="0.75"/><path d="M713.10,630.40L686.60,659.83A39.6,39.6 0 0 0 693.30,664.69Z" fill="#1f7fe0" stroke="#fff" stroke-width="0.75"/><path d="M713.10,630.40L693.30,664.69A39.6,39.6 0 0 0 700.86,668.06Z" fill="#e03131" stroke="#fff" stroke-width="0.75"/><path d="M713.10,630.40L700.86,668.06A39.6,39.6 0 0 0 708.96,669.78Z" fill="#1f7fe0" stroke="#fff" stroke-width="0.75"/><path d="M713.10,630.40L708.96,669.78A39.6,39.6 0 0 0 717.24,669.78Z" fill="#e03131" stroke="#fff" stroke-width="0.75"/><path d="M713.10,630.40L717.24,669.78A39.6,39.6 0 0 0 725.34,668.06Z" fill="#20b04b" stroke="#fff" stroke-width="0.75"/><path d="M713.10,630.40L725.34,668.06A39.6,39.6 0 0 0 732.90,664.69Z" fill="#f5bd1f" stroke="#fff" stroke-width="0.75"/><path d="M713.10,630.40L732.90,664.69A39.6,39.6 0 0 0 739.60,659.83Z" fill="#8c4fe0" stroke="#fff" stroke-width="0.75"/><path d="M713.10,630.40L739.60,659.83A39.6,39.6 0 0 0 745.14,653.68Z" fill="#1f7fe0" stroke="#fff" stroke-width="0.75"/><path d="M713.10,630.40L745.14,653.68A39.6,39.6 0 0 0 749.28,646.51Z" fill="#e03131" stroke="#fff" stroke-width="0.75"/><path d="M713.10,630.40L749.28,646.51A39.6,39.6 0 0 0 751.83,638.63Z" fill="#1f7fe0" stroke="#fff" stroke-width="0.75"/><path d="M713.10,630.40L751.83,638.63A39.6,39.6 0 0 0 752.70,630.40Z" fill="#e03131" stroke="#fff" stroke-width="0.75"/>
<path d="M1086.30,630.40L1125.90,630.40A39.6,39.6 0 0 0 1125.44,624.36Z" fill="#1f7fe0" stroke="#fff" stroke-width="0.75"/><path d="M1086.30,630.40L1125.44,624.36A39.6,39.6 0 0 0 1124.02,618.35Z" fill="#e03131" stroke="#fff" stroke-width="0.75"/><path d="M1086.30,630.40L1124.02,618.35A39.6,39.6 0 0 0 1121.56,612.37Z" fill="#20b04b" stroke="#fff" stroke-width="0.75"/><path d="M1086.30,630.40L1121.56,612.37A39.6,39.6 0 0 0 1118.52,607.37Z" fill="#f5bd1f" stroke="#fff" stroke-width="0.75"/><path d="M1086.30,630.40L1118.52,607.37A39.6,39.6 0 0 0 1114.28,602.38Z" fill="#8c4fe0" stroke="#fff" stroke-width="0.75"/><path d="M1086.30,630.40L1114.28,602.38A39.6,39.6 0 0 0 1108.98,597.94Z" fill="#1f7fe0" stroke="#fff" stroke-width="0.75"/><path d="M1086.30,630.40L1108.98,597.94A39.6,39.6 0 0 0 1102.87,594.43Z" fill="#e03131" stroke="#fff" stroke-width="0.75"/><path d="M1086.30,630.40L1102.87,594.43A39.6,39.6 0 0 0 1096.48,592.13Z" fill="#1f7fe0" stroke="#fff" stroke-width="0.75"/><path d="M1086.30,630.40L1096.48,592.13A39.6,39.6 0 0 0 1089.26,590.91Z" fill="#e03131" stroke="#fff" stroke-width="0.75"/><path d="M1086.30,630.40L1089.26,590.91A39.6,39.6 0 0 0 1081.72,591.07Z" fill="#20b04b" stroke="#fff" stroke-width="0.75"/><path d="M1086.30,630.40L1081.72,591.07A39.6,39.6 0 0 0 1074.36,592.64Z" fill="#f5bd1f" stroke="#fff" stroke-width="0.75"/><path d="M1086.30,630.40L1074.36,592.64A39.6,39.6 0 0 0 1067.24,595.69Z" fill="#8c4fe0" stroke="#fff" stroke-width="0.75"/><path d="M1086.30,630.40L1067.24,595.69A39.6,39.6 0 0 0 1060.73,600.16Z" fill="#1f7fe0" stroke="#fff" stroke-width="0.75"/><path d="M1086.30,630.40L1060.73,600.16A39.6,39.6 0 0 0 1055.16,605.94Z" fill="#e03131" stroke="#fff" stroke-width="0.75"/><path d="M1086.30,630.40L1055.16,605.94A39.6,39.6 0 0 0 1050.79,612.87Z" fill="#1f7fe0" stroke="#fff" stroke-width="0.75"/><path d="M1086.30,630.40L1050.79,612.87A39.6,39.6 0 0 0 1047.90,620.71Z" fill="#e03131" stroke="#fff" stroke-width="0.75"/><path d="M1086.30,630.40L1047.90,620.71A39.6,39.6 0 0 0 1046.72,629.14Z" fill="#20b04b" stroke="#fff" stroke-width="0.75"/><path d="M1086.30,630.40L1046.72,629.14A39.6,39.6 0 0 0 1047.40,637.80Z" fill="#f5bd1f" stroke="#fff" stroke-width="0.75"/><path d="M1086.30,630.40L1047.40,637.80A39.6,39.6 0 0 0 1050.01,646.25Z" fill="#8c4fe0" stroke="#fff" stroke-width="0.75"/><path d="M1086.30,630.40L1050.01,646.25A39.6,39.6 0 0 0 1054.53,654.04Z" fill="#1f7fe0" stroke="#fff" stroke-width="0.75"/><path d="M1086.30,630.40L1054.53,654.04A39.6,39.6 0 0 0 1060.82,660.72Z" fill="#e03131" stroke="#fff" stroke-width="0.75"/><path d="M1086.30,630.40L1060.82,660.72A39.6,39.6 0 0 0 1068.63,665.84Z" fill="#1f7fe0" stroke="#fff" stroke-width="0.75"/><path d="M1086.30,630.40L1068.63,665.84A39.6,39.6 0 0 0 1077.58,669.03Z" fill="#e03131" stroke="#fff" stroke-width="0.75"/><path d="M1086.30,630.40L1077.58,669.03A39.6,39.6 0 0 0 1087.20,669.99Z" fill="#20b04b" stroke="#fff" stroke-width="0.75"/><path d="M1086.30,630.40L1087.20,669.99A39.6,39.6 0 0 0 1096.92,668.55Z" fill="#f5bd1f" stroke="#fff" stroke-width="0.75"/><path d="M1086.30,630.40L1096.92,668.55A39.6,39.6 0 0 0 1106.13,664.68Z" fill="#8c4fe0" stroke="#fff" stroke-width="0.75"/><path d="M1086.30,630.40L1106.13,664.68A39.6,39.6 0 0 0 1114.17,658.54Z" fill="#1f7fe0" stroke="#fff" stroke-width="0.75"/><path d="M1086.30,630.40L1114.17,658.54A39.6,39.6 0 0 0 1120.45,650.45Z" fill="#e03131" stroke="#fff" stroke-width="0.75"/><path d="M1086.30,630.40L1120.45,650.45A39.6,39.6 0 0 0 1124.49,640.87Z" fill="#1f7fe0" stroke="#fff" stroke-width="0.75"/><path d="M1086.30,630.40L1124.49,640.87A39.6,39.6 0 0 0 1125.90,630.40Z" fill="#e03131" stroke="#fff" stroke-width="0.75"/>
<text x="32.80" y="26.25" font-size="13.4" fill="#1f2430" stroke="#1f2430" stroke-width="0.5" textLength="60.6" lengthAdjust="spacingAndGlyphs">DataFlow</text>
<text x="9.30" y="56.10" font-size="7.05" fill="#6b7078">Menu</text>
<text x="22.90" y="74.90" font-size="8.15" fill="#2d6fb8">Overview</text>
<text x="22.90" y="95.40" font-size="8.15" fill="#3b3f46">Data Sources</text>
<text x="22.90" y="115.90" font-size="8.15" fill="#3b3f46">Chart Editor</text>
<text x="22.90" y="136.40" font-size="8.15" fill="#3b3f46">Data Lab</text>
<text x="22.90" y="156.90" font-size="8.15" fill="#3b3f46">Dashboard Builder</text>
<text x="22.90" y="177.30" font-size="8.15" fill="#3b3f46">Report Builder</text>
<text x="126.15" y="176.70" font-size="6.8" fill="#3775c6" text-anchor="middle" stroke="#3775c6" stroke-width="0.1">New</text>
<text x="22.90" y="197.70" font-size="8.15" fill="#3b3f46">AI Chart Creator</text>
<text x="125.85" y="197.10" font-size="6.8" fill="#3775c6" text-anchor="middle" stroke="#3775c6" stroke-width="0.1">Beta</text>
<text x="9.30" y="229.60" font-size="7.05" fill="#6b7078">My Work</text>
<text x="22.90" y="248.40" font-size="8.15" fill="#3b3f46">My Charts</text>
<text x="22.90" y="268.90" font-size="8.15" fill="#3b3f46">My Dashboards</text>
<text x="22.90" y="289.40" font-size="8.15" fill="#3b3f46">My Reports</text>
<text x="9.30" y="320.80" font-size="7.05" fill="#6b7078">Example Dashboards</text>
<text x="22.90" y="339.60" font-size="8.15" fill="#3b3f46">Sales Analytics</text>
<text x="22.90" y="360.00" font-size="8.15" fill="#3b3f46">Ad Analytics</text>
<text x="22.90" y="375.00" font-size="8.15" fill="#3b3f46">Financial</text>
<text x="22.90" y="386.20" font-size="8.15" fill="#3b3f46">Performance</text>
<text x="120.25" y="380.60" font-size="6.8" fill="#3775c6" text-anchor="middle" stroke="#3775c6" stroke-width="0.1" textLength="25.2" lengthAdjust="spacingAndGlyphs">Premiu…</text>
<text x="9.30" y="417.00" font-size="7.05" fill="#6b7078">Collaboration</text>
<text x="22.90" y="435.80" font-size="8.15" fill="#3b3f46">Shared With Me</text>
<text x="174.50" y="32.90" font-size="10.9" fill="#1d2129" stroke="#1d2129" stroke-width="0.42" textLength="146.3" lengthAdjust="spacingAndGlyphs">Latest Line Charts Overview</text>
<text x="174.20" y="45.90" font-size="8.2" fill="#6f737a" textLength="142.8" lengthAdjust="spacingAndGlyphs">Overlay of your most recent line charts.</text>
<text x="921.20" y="33.00" font-size="10.9" fill="#1d2129" stroke="#1d2129" stroke-width="0.42" textLength="110.1" lengthAdjust="spacingAndGlyphs">Connect Data Source</text>
<text x="921.00" y="49.00" font-size="8.25" fill="#6f737a" textLength="224" lengthAdjust="spacingAndGlyphs">Upload a file or connect to your cloud storage to stream data.</text>
<text x="949.70" y="80.10" font-size="8.1" fill="#23262b">File</text>
<text x="1000.60" y="80.10" font-size="8.1" fill="#4b5058">Excel</text>
<text x="1052.00" y="80.10" font-size="8.1" fill="#4b5058">Sheets</text>
<text x="1114.40" y="80.10" font-size="8.1" fill="#aab0b8">S3</text>
<text x="1164.60" y="80.10" font-size="8.1" fill="#aab0b8">Drive</text>
<text x="1217.70" y="80.10" font-size="8.1" fill="#aab0b8">Azure</text>
<text x="930.70" y="117.20" font-size="9.2" fill="#1d2129" stroke="#1d2129" stroke-width="0.12" textLength="106.3" lengthAdjust="spacingAndGlyphs">Upload CSV or JSON File</text>
<text x="930.60" y="138.60" font-size="8.15" fill="#6f737a" textLength="248.5" lengthAdjust="spacingAndGlyphs">Manage file uploads and see parsed data on the Data Sources page.</text>
<text x="1040.90" y="164.90" font-size="8.2" fill="#fff" stroke="#fff" stroke-width="0.3" textLength="72.5" lengthAdjust="spacingAndGlyphs">Go to Data Sources</text>
<text x="160.60" y="328.75" font-size="13.0" fill="#1d2129" stroke="#1d2129" stroke-width="0.5" textLength="136.9" lengthAdjust="spacingAndGlyphs">My Charts (Recent 6)</text>
<text x="1200.20" y="327.40" font-size="8.4" fill="#23262b" stroke="#23262b" stroke-width="0.12" textLength="56.5" lengthAdjust="spacingAndGlyphs">View All Charts</text>
<text x="174.60" y="370.40" font-size="9.4" fill="#1d2129" stroke="#1d2129" stroke-width="0.36" textLength="92.8" lengthAdjust="spacingAndGlyphs">Gross Profit by Date</text>
<text x="174.60" y="385.50" font-size="6.9" fill="#6f737a" textLength="147.7" lengthAdjust="spacingAndGlyphs">Bar Chart • Bar Chart Of Gross Profit Over Date.</text>
<text x="200.00" y="500.30" font-size="8.3" fill="#23262b" textLength="17.8" lengthAdjust="spacingAndGlyphs">View</text>
<text x="484.70" y="500.30" font-size="8.1" fill="#fff" stroke="#fff" stroke-width="0.3" textLength="13.7" lengthAdjust="spacingAndGlyphs">Edit</text>
<text x="548.00" y="370.40" font-size="9.4" fill="#1d2129" stroke="#1d2129" stroke-width="0.36" textLength="109.3" lengthAdjust="spacingAndGlyphs">Monthly Revenue Trend</text>
<text x="548.00" y="385.50" font-size="6.9" fill="#6f737a" textLength="268.3" lengthAdjust="spacingAndGlyphs">Line Chart • A Line Chart Displaying Revenue Trends Over Time, Aggregated By Month.</text>
<text x="573.40" y="500.30" font-size="8.3" fill="#23262b" textLength="17.8" lengthAdjust="spacingAndGlyphs">View</text>
<text x="858.10" y="500.30" font-size="8.1" fill="#fff" stroke="#fff" stroke-width="0.3" textLength="13.7" lengthAdjust="spacingAndGlyphs">Edit</text>
<text x="921.20" y="370.40" font-size="9.4" fill="#1d2129" stroke="#1d2129" stroke-width="0.36" textLength="48.1" lengthAdjust="spacingAndGlyphs">Line Chart</text>
<text x="921.20" y="385.50" font-size="6.9" fill="#6f737a" textLength="153.8" lengthAdjust="spacingAndGlyphs">Bar Chart • A Line Chart To Visualize Data Trends.</text>
<text x="946.60" y="500.30" font-size="8.3" fill="#23262b" textLength="17.8" lengthAdjust="spacingAndGlyphs">View</text>
<text x="1231.30" y="500.30" font-size="8.1" fill="#fff" stroke="#fff" stroke-width="0.3" textLength="13.7" lengthAdjust="spacingAndGlyphs">Edit</text>
<text x="174.60" y="560.70" font-size="9.4" fill="#1d2129" stroke="#1d2129" stroke-width="0.36" textLength="65.9" lengthAdjust="spacingAndGlyphs">My New Chart</text>
<text x="174.60" y="575.80" font-size="6.9" fill="#6f737a" textLength="135.9" lengthAdjust="spacingAndGlyphs">Bar Chart • A Chart Created With The Editor.</text>
<text x="200.00" y="690.60" font-size="8.3" fill="#23262b" textLength="17.8" lengthAdjust="spacingAndGlyphs">View</text>
<text x="484.70" y="690.60" font-size="8.1" fill="#fff" stroke="#fff" stroke-width="0.3" textLength="13.7" lengthAdjust="spacingAndGlyphs">Edit</text>
<text x="548.00" y="560.70" font-size="9.4" fill="#1d2129" stroke="#1d2129" stroke-width="0.36" textLength="105.0" lengthAdjust="spacingAndGlyphs">Pie Chart from Test DS</text>
<text x="548.00" y="575.80" font-size="6.9" fill="#6f737a" textLength="189.7" lengthAdjust="spacingAndGlyphs">Pie Chart • A Pie Chart Generated From The 'Test Ds' Dataset.</text>
<text x="573.40" y="690.60" font-size="8.3" fill="#23262b" textLength="17.8" lengthAdjust="spacingAndGlyphs">View</text>
<text x="858.10" y="690.60" font-size="8.1" fill="#fff" stroke="#fff" stroke-width="0.3" textLength="13.7" lengthAdjust="spacingAndGlyphs">Edit</text>
<text x="921.20" y="560.70" font-size="9.4" fill="#1d2129" stroke="#1d2129" stroke-width="0.36" textLength="66.2" lengthAdjust="spacingAndGlyphs">My New Chart</text>
<text x="921.20" y="575.80" font-size="6.9" fill="#6f737a" textLength="135.1" lengthAdjust="spacingAndGlyphs">Pie Chart • A Chart Created With The Editor.</text>
<text x="946.60" y="690.60" font-size="8.3" fill="#23262b" textLength="17.8" lengthAdjust="spacingAndGlyphs">View</text>
<text x="1231.30" y="690.60" font-size="8.1" fill="#fff" stroke="#fff" stroke-width="0.3" textLength="13.7" lengthAdjust="spacingAndGlyphs">Edit</text>
</svg>
</div>
<div id="top"></div>
</body></html>
